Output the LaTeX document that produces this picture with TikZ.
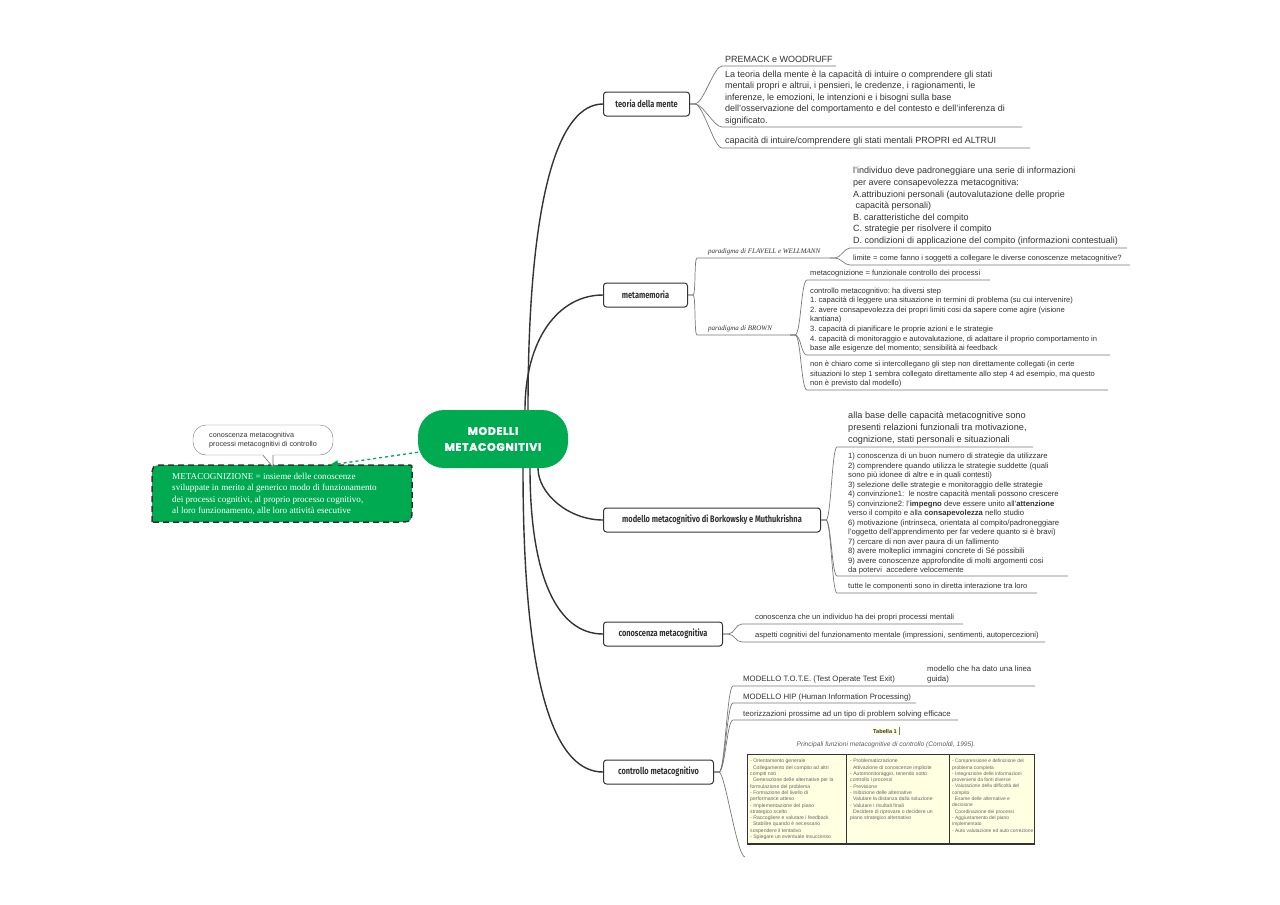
\documentclass[tikz,border=0pt]{standalone}
\usepackage{fontspec}
\setmainfont{Liberation Sans}
\newfontfamily\branchfont{Fira Sans}[FakeStretch=0.78]
\newfontfamily\titlefont{Poppins}[LetterSpace=6, BoldFeatures={FakeBold=1.6}]
\newfontfamily\notefont{Liberation Serif}
\usetikzlibrary{calc,arrows.meta}
\definecolor{mapgreen}{RGB}{0,170,80}
\definecolor{ink}{RGB}{51,51,51}
\definecolor{twig}{RGB}{120,120,120}
\definecolor{tabyellow}{RGB}{255,255,226}
% parent, leaf, curve pull, underline length
\def\sprig(#1)(#2)(#3)(#4){\draw[twigline] (#1) -- ++(5,0) .. controls +(#3,0) and +(-#3,0) .. (#2.south west) -- ++(#4,0);}
\frenchspacing

\begin{document}
\begin{tikzpicture}[x=1pt,y=-1pt,
    hub/.style={fill=mapgreen, text=white, rounded corners=26pt, minimum width=150pt, minimum height=58pt, align=center, font=\titlefont\bfseries\fontsize{11}{16}\selectfont},
    limb/.style={anchor=west, draw=ink, line width=1pt, rounded corners=3pt, fill=white, minimum height=24pt, text=ink, font=\branchfont\bfseries\fontsize{9.5}{11}\selectfont},
    trunk/.style={draw=ink, line width=1.4pt},
    twigline/.style={draw=twig, line width=0.7pt},
    leaf/.style={anchor=south west, inner xsep=3pt, inner ysep=2.5pt, align=left, text=ink},
    big/.style={font=\fontsize{9}{11.6}\selectfont},
    mid/.style={font=\fontsize{7.8}{10}\selectfont},
    small/.style={font=\fontsize{7.6}{9.6}\selectfont},
    hand/.style={font=\notefont\itshape\fontsize{7}{8}\selectfont},
    bubble/.style={draw=twig, fill=white, rounded corners=13pt, minimum width=140pt, minimum height=30pt, align=left, text=ink, font=\fontsize{7.2}{9}\selectfont},
    defline/.style={fill=mapgreen, draw=ink, line width=1.5pt, dash pattern=on 6pt off 4pt},
    linkline/.style={draw=mapgreen, line width=1.3pt, dash pattern=on 3pt off 3pt, -{Triangle[length=8pt,width=7pt]}},
    tcell/.style={anchor=north west, inner sep=1pt, align=left, text=ink!75, font=\fontsize{5.1}{6.3}\selectfont}]

\fill[white] (0,0) rectangle (1280,905);
\useasboundingbox (0,0) rectangle (1280,905);

%% centre and branches
\node[hub] (mm) at (493,439) {MODELLI\\METACOGNITIVI};

\node[limb, minimum width=86pt] (teo) at (603,104) {teoria della mente};
\node[limb, minimum width=84pt] (mem) at (603,295) {metamemoria};
\node[limb, minimum width=217pt] (bor) at (603,520) {modello metacognitivo di Borkowsky e Muthukrishna};
\node[limb, minimum width=119pt] (con) at (603,634) {conoscenza metacognitiva};
\node[limb, minimum width=110pt] (ctr) at (603,772) {controllo metacognitivo};

\draw[trunk] ([xshift=35pt]mm.north) .. controls +(0,-220) and +(-43,0) .. (teo.west);
\draw[trunk] ([xshift=32pt]mm.north) .. controls +(0,-70) and +(-45,0) .. (mem.west);
\draw[trunk] ([xshift=45pt]mm.south) .. controls +(0,25) and +(-35,0) .. (bor.west);
\draw[trunk] ([xshift=37pt]mm.south) .. controls +(0,110) and +(-45,0) .. (con.west);
\draw[trunk] ([xshift=30pt]mm.south) .. controls +(0,230) and +(-45,0) .. (ctr.west);

%% teoria della mente
\node[leaf, big, inner ysep=3.5pt] (tA) at (722,66) {PREMACK e WOODRUFF};
\node[leaf, big, inner ysep=1.5pt] (tB) at (722,127) {La teoria della mente è la capacità di intuire o comprendere gli stati\\
  mentali propri e altrui, i pensieri, le credenze, i ragionamenti, le\\
  inferenze, le emozioni, le intenzioni e i bisogni sulla base\\
  dell'osservazione del comportamento e del contesto e dell'inferenza di\\
  significato.};
\node[leaf, big] (tC) at (722,148) {capacità di intuire/comprendere gli stati mentali PROPRI ed ALTRUI};
\sprig(teo.east)(tA)(8)(114)
\sprig(teo.east)(tB)(8)(300)
\sprig(teo.east)(tC)(8)(308)

%% metamemoria
\node[leaf, hand, inner xsep=11pt] (mF) at (697,258) {paradigma di FLAVELL e WELLMANN};
\node[leaf, hand, inner xsep=11pt] (mB) at (697,335) {paradigma di BROWN};
\sprig(mem.east)(mF)(3)(133)
\sprig(mem.east)(mB)(3)(93)

\node[leaf, big] (f1) at (850,248) {l'individuo deve padroneggiare una serie di informazioni\\
  per avere consapevolezza metacognitiva:\\
  A.attribuzioni personali (autovalutazione delle proprie\\
  \ capacità personali)\\
  B. caratteristiche del compito\\
  C. strategie per risolvere il compito\\
  D. condizioni di applicazione del compito (informazioni contestuali)};
\node[leaf, small] (f2) at (850,265) {limite = come fanno i soggetti a collegare le diverse conoscenze metacognitive?};
\sprig([xshift=133pt]mF.south west)(f1)(6)(277)
\sprig([xshift=133pt]mF.south west)(f2)(6)(280)

\node[leaf, small] (b1) at (807,280) {metacognizione = funzionale controllo dei processi};
\node[leaf, small] (b2) at (807,355) {controllo metacognitivo: ha diversi step\\
  1. capacità di leggere una situazione in termini di problema (su cui intervenire)\\
  2. avere consapevolezza dei propri limiti cosi da sapere come agire (visione\\
  kantiana)\\
  3. capacità di pianificare le proprie azioni e le strategie\\
  4. capacità di monitoraggio e autovalutazione, di adattare il proprio comportamento in\\
  base alle esigenze del momento; sensibilità ai feedback};
\node[leaf, small] (b3) at (807,390) {non è chiaro come si intercollegano gli step non direttamente collegati (in certe\\
  situazioni lo step 1 sembra collegato direttamente allo step 4 ad esempio, ma questo\\
  non è previsto dal modello)};
\sprig([xshift=93pt]mB.south west)(b1)(6)(183)
\sprig([xshift=93pt]mB.south west)(b2)(6)(303)
\sprig([xshift=93pt]mB.south west)(b3)(6)(301)

%% Borkowsky e Muthukrishna
\node[leaf, font=\fontsize{9.2}{12}\selectfont, inner xsep=11pt] (k1) at (837,447) {alla base delle capacità metacognitive sono\\
  presenti relazioni funzionali tra motivazione,\\
  cognizione, stati personali e situazionali};
\node[leaf, font=\fontsize{7.7}{9.5}\selectfont, inner xsep=11pt, inner ysep=1.5pt] (k2) at (837,576) {1) conoscenza di un buon numero di strategie da utilizzare\\
  2) comprendere quando utilizza le strategie suddette (quali\\
  sono più idonee di altre e in quali contesti)\\
  3) selezione delle strategie e monitoraggio delle strategie\\
  4) convinzione1:\ \ le nostre capacità mentali possono crescere\\
  5) convinzione2: l'\textbf{impegno} deve essere unito all'\textbf{attenzione}\\
  verso il compito e alla \textbf{consapevolezza} nello studio\\
  6) motivazione (intrinseca, orientata al compito/padroneggiare\\
  l'oggetto dell'apprendimento per far vedere quanto si è bravi)\\
  7) cercare di non aver paura di un fallimento\\
  8) avere molteplici immagini concrete di Sé possibili\\
  9) avere conoscenze approfondite di molti argomenti cosi\\
  da potervi\ \ accedere velocemente};
\node[leaf, small, inner xsep=11pt] (k3) at (837,593) {tutte le componenti sono in diretta interazione tra loro};
\sprig(bor.east)(k1)(5)(196)
\sprig(bor.east)(k2)(5)(231)
\sprig(bor.east)(k3)(5)(200)

%% conoscenza metacognitiva
\node[leaf, small, inner xsep=13pt] (c1) at (742,624) {conoscenza che un individuo ha dei propri processi mentali};
\node[leaf, small, inner xsep=13pt] (c2) at (742,642) {aspetti cognitivi del funzionamento mentale (impressioni, sentimenti, autopercezioni)};
\sprig(con.east)(c1)(7)(221)
\sprig(con.east)(c2)(7)(303)

%% controllo metacognitivo
\node[leaf, mid, inner xsep=10pt, inner ysep=1.5pt] (q1) at (733,686) {\makebox[184pt][l]{MODELLO T.O.T.E. (Test Operate Test Exit)}\begin{tabular}[b]{@{}l@{}}modello che ha dato una linea\\guida)\end{tabular}};
\node[leaf, mid, inner xsep=10pt, inner ysep=1.5pt] (q2) at (733,703) {MODELLO HIP (Human Information Processing)};
\node[leaf, mid, inner xsep=10pt, inner ysep=1.5pt] (q3) at (733,720) {teorizzazioni prossime ad un tipo di problem solving efficace};
\sprig(ctr.east)(q1)(6)(302)
\sprig(ctr.east)(q2)(6)(183)
\sprig(ctr.east)(q3)(6)(225)

\node[anchor=south west, inner sep=0, minimum width=290pt, minimum height=134pt] (tab) at (745,857) {};
\draw[twigline] (ctr.east) -- ++(5,0) .. controls +(6,0) and +(-8,0) .. (tab.south west);
\node[fill=tabyellow, inner sep=2pt, text=ink, font=\bfseries\fontsize{5.6}{6}\selectfont] (tlab) at (885,731) {Tabella 1};
\draw[twigline] (tlab.north east) -- (tlab.south east);
\node[text=ink!80, font=\itshape\fontsize{6.6}{7}\selectfont] (tcap) at (886,745) {Principali funzioni metacognitive di controllo (Cornoldi, 1995).};
\filldraw[fill=tabyellow, draw=ink, line width=0.5pt] (747,754) rectangle (1034,844);
\draw[ink, line width=1.6pt] (747,844) -- (1034,844);
\draw[ink, line width=1pt] (846,754) -- (846,844) (949,754) -- (949,844);
\node[tcell] (tc1) at (749,758) {- Orientamento generale\\
  \ \ Collegamento del compito ad altri\\
  compiti noti\\
  \ \ Generazione delle alternative per la\\
  formulazione del problema\\
  - Formazione del livello di\\
  performance atteso\\
  - Implementazione del piano\\
  strategico scelto\\
  - Raccogliere e valutare i feedback\\
  \ \ Stabilire quando è necessario\\
  sospendere il tentativo\\
  - Spiegare un eventuale insuccesso};
\node[tcell] (tc2) at (849,758) {- Problematizzazione\\
  \ \ Attivazione di conoscenze implicite\\
  - Automonitoraggio, tenendo sotto\\
  controllo i processi\\
  - Previsione\\
  - Inibizione delle alternative\\
  \ \ Valutare la distanza dalla soluzione\\
  - Valutare i risultati finali\\
  \ \ Decidere di riprovare o decidere un\\
  piano strategico alternativo};
\node[tcell, font=\fontsize{4.9}{6.3}\selectfont] (tc3) at (951,758) {- Comprensione e definizione del\\
  problema completa\\
  - Integrazione delle informazioni\\
  provenienti da fonti diverse\\
  - Valutazione della difficoltà del\\
  compito\\
  \ \ Esame delle alternative e\\
  decisione\\
  \ \ Coordinazione dei processi\\
  - Aggiustamento del piano\\
  implementato\\
  - Auto valutazione ed auto correzione};

%% definition on the left
\filldraw[defline] (152,522) -- (152,480) .. controls (152,465) .. (167,465) -- (408,465) .. controls (412,465) .. (412,469) -- (412,507) .. controls (412,522) .. (397,522) -- cycle;
\node[anchor=west, text=white, align=left, font=\notefont\fontsize{9.1}{11.4}\selectfont] (def) at (168.7,494) {METACOGNIZIONE = insieme delle conoscenze\\
  sviluppate in merito al generico modo di funzionamento\\
  dei processi cognitivi, al proprio processo cognitivo,\\
  al loro funzionamento, alle loro attività esecutive};
\coordinate (defhook) at (330,465);
\draw[linkline] (mm.190) -- (defhook);

\node[bubble] (cb) at (263,440) {conoscenza metacognitiva\\processi metacognitivi di controllo};
\fill[white] ($(cb.south)+(0,-1)$) -- ($(cb.south)+(10,12)$) -- ($(cb.south)+(10,-1)$) -- cycle;
\draw[twigline] ($(cb.south)+(0,0)$) -- ($(cb.south)+(10,12)$) -- ($(cb.south)+(10,0)$);

\end{tikzpicture}
\end{document}
